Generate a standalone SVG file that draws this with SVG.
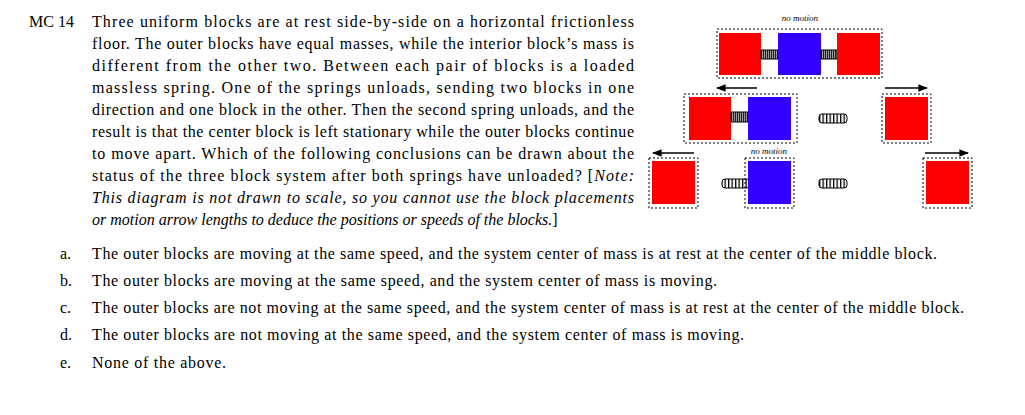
<svg xmlns="http://www.w3.org/2000/svg" width="1025" height="415" viewBox="0 0 1025 415">
<style>
text{font-family:"Liberation Serif","Times New Roman",serif;font-size:16px;fill:#000}
.lbl{font-size:9px;font-style:italic}
.red{fill:#ff0000}
.blue{fill:#3300ff}
.frame{fill:none;stroke:#000;stroke-width:1;stroke-dasharray:2 2}
.ld{fill:url(#coilL);stroke:#000;stroke-width:1}
.un{fill:url(#coilU);stroke:#000;stroke-width:1}
.arr{stroke:#000;stroke-width:1.6;fill:none}
</style>
<defs>
<marker id="ah" viewBox="0 0 10 10" refX="9" refY="5" markerWidth="6" markerHeight="6" orient="auto"><path d="M0,1L10,5L0,9z" fill="#000"/></marker>
<pattern id="coilL" patternUnits="userSpaceOnUse" width="2" height="10"><rect width="2" height="10" fill="#222"/><rect width="1" height="10" fill="#999"/></pattern>
<pattern id="coilU" patternUnits="userSpaceOnUse" width="3.5" height="10"><rect width="3.5" height="10" fill="#fff"/><rect width="1.3" height="10" fill="#000"/></pattern>
</defs>
<g id="question">
<text x="29" y="27">MC 14</text>
<text x="92" y="27" textLength="542" lengthAdjust="spacing">Three uniform blocks are at rest side-by-side on a horizontal frictionless</text>
<text x="92" y="49" textLength="542" lengthAdjust="spacing">floor.  The outer blocks have equal masses, while the interior block’s mass is</text>
<text x="92" y="71" textLength="542" lengthAdjust="spacing">different from the other two.  Between each pair of blocks is a loaded</text>
<text x="92" y="93" textLength="542" lengthAdjust="spacing">massless spring.  One of the springs unloads, sending two blocks in one</text>
<text x="92" y="115" textLength="542" lengthAdjust="spacing">direction and one block in the other.  Then the second spring unloads, and the</text>
<text x="92" y="137" textLength="542" lengthAdjust="spacing">result is that the center block is left stationary while the outer blocks continue</text>
<text x="92" y="159" textLength="542" lengthAdjust="spacing">to move apart.  Which of the following conclusions can be drawn about the</text>
<text x="92" y="181" textLength="542" lengthAdjust="spacing">status of the three block system after both springs have unloaded? [<tspan font-style="italic">Note:</tspan></text>
<text x="92" y="203" textLength="542" lengthAdjust="spacing" font-style="italic">This diagram is not drawn to scale, so you cannot use the block placements</text>
<text x="92" y="225"><tspan font-style="italic">or motion arrow lengths to deduce the positions or speeds of the blocks.</tspan>]</text>
</g>
<g id="options">
<text x="60" y="259">a.</text><text x="92" y="259" textLength="845" lengthAdjust="spacing">The outer blocks are moving at the same speed, and the system center of mass is at rest at the center of the middle block.</text>
<text x="60" y="286">b.</text><text x="92" y="286" textLength="625" lengthAdjust="spacing">The outer blocks are moving at the same speed, and the system center of mass is moving.</text>
<text x="60" y="313">c.</text><text x="92" y="313" textLength="872" lengthAdjust="spacing">The outer blocks are not moving at the same speed, and the system center of mass is at rest at the center of the middle block.</text>
<text x="60" y="340">d.</text><text x="92" y="340" textLength="652" lengthAdjust="spacing">The outer blocks are not moving at the same speed, and the system center of mass is moving.</text>
<text x="60" y="368">e.</text><text x="92" y="368" textLength="134" lengthAdjust="spacing">None of the above.</text>
</g>
<g id="row1">
<text class="lbl" x="800" y="21" text-anchor="middle">no motion</text>
<rect class="frame" x="717" y="29" width="165" height="49"/>
<rect class="red" x="719" y="33" width="42" height="42"/>
<rect class="ld" x="761" y="50" width="17" height="9"/>
<rect class="blue" x="778" y="33" width="43" height="42"/>
<rect class="ld" x="821" y="50" width="16" height="9"/>
<rect class="red" x="837" y="33" width="43" height="42"/>
</g>
<g id="row2">
<rect class="frame" x="684" y="94" width="113" height="49"/>
<rect class="red" x="689" y="97" width="42" height="43"/>
<rect class="ld" x="731" y="112" width="17" height="10"/>
<rect class="blue" x="748" y="97" width="43" height="43"/>
<rect class="un" x="819" y="114" width="28" height="9" rx="3"/>
<rect class="frame" x="882" y="94" width="49" height="49"/>
<rect class="red" x="885" y="97" width="43" height="43"/>
</g>
<g id="row3">
<text class="lbl" x="769" y="154" text-anchor="middle">no motion</text>
<rect class="frame" x="649" y="158" width="49" height="50"/>
<rect class="red" x="652" y="161" width="43" height="43"/>
<rect class="un" x="722" y="179" width="28" height="9" rx="3"/>
<rect class="frame" x="745" y="158" width="49" height="50"/>
<rect class="blue" x="748" y="161" width="43" height="43"/>
<rect class="un" x="819" y="179" width="28" height="9" rx="3"/>
<rect class="frame" x="923" y="158" width="49" height="50"/>
<rect class="red" x="926" y="161" width="43" height="43"/>
</g>
<g id="connectors">
<line class="arr" x1="757" y1="88" x2="717" y2="88" marker-end="url(#ah)"/>
<line class="arr" x1="885" y1="88" x2="927" y2="88" marker-end="url(#ah)"/>
<line class="arr" x1="694" y1="153" x2="653" y2="153" marker-end="url(#ah)"/>
<line class="arr" x1="925" y1="153" x2="968" y2="153" marker-end="url(#ah)"/>
</g>
</svg>
